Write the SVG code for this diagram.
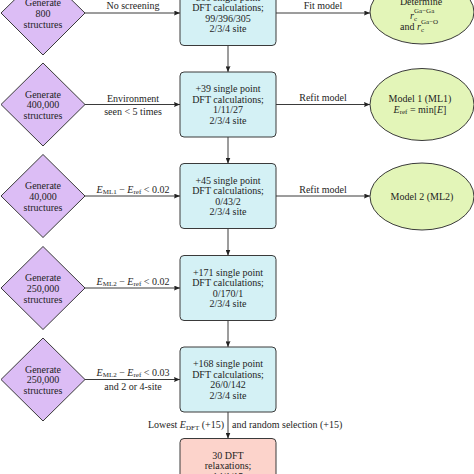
<svg xmlns="http://www.w3.org/2000/svg" width="474" height="474" viewBox="0 0 474 474">
<defs>
<style>
text{font-family:'Liberation Serif','Times New Roman',serif;font-size:10px;fill:#1e1e1e;text-anchor:middle}
.dia{fill:#dcbdf5;stroke:#3a3a3a;stroke-width:1}
.box{fill:#d4f1f5;stroke:#3a3a3a;stroke-width:1}
.red{fill:#fcd3cb;stroke:#3a3a3a;stroke-width:1}
.ell{fill:#e3f5b8;stroke:#3a3a3a;stroke-width:1}
.con{stroke:#3a3a3a;stroke-width:1;fill:none;marker-end:url(#ah)}
.i{font-style:italic}
.s{font-size:7px}
.st{text-anchor:start}
</style>
<marker id="ah" viewBox="0 0 6 5" refX="6" refY="2.5" markerWidth="6" markerHeight="5" markerUnits="userSpaceOnUse" orient="auto">
<path d="M0,0 L6,2.5 L0,5 Q1.2,2.5 0,0 z" fill="#222"/>
</marker>
</defs>

<g id="connectors">
<line class="con" x1="85" y1="13" x2="180" y2="13"/>
<line class="con" x1="85" y1="104.5" x2="180" y2="104.5"/>
<line class="con" x1="85" y1="196" x2="180" y2="196"/>
<line class="con" x1="85" y1="288" x2="180" y2="288"/>
<line class="con" x1="85" y1="379.5" x2="180" y2="379.5"/>
<line class="con" x1="276" y1="13" x2="370" y2="13"/>
<line class="con" x1="276" y1="104.5" x2="370" y2="104.5"/>
<line class="con" x1="276" y1="196" x2="370" y2="196"/>
<line class="con" x1="228" y1="45.5" x2="228" y2="72"/>
<line class="con" x1="228" y1="137" x2="228" y2="163.5"/>
<line class="con" x1="228" y1="228.5" x2="228" y2="255.5"/>
<line class="con" x1="228" y1="320.5" x2="228" y2="347"/>
<line class="con" x1="228" y1="412" x2="228" y2="438.5"/>
<text x="133" y="9">No screening</text>
<text x="133" y="101.5">Environment</text>
<text x="133" y="115">seen &lt; 5 times</text>
<text x="133" y="192.5"><tspan class="i">E</tspan><tspan class="s" dy="1.5">ML1</tspan><tspan dy="-1.5"> − </tspan><tspan class="i">E</tspan><tspan class="s" dy="1.5">ref</tspan><tspan dy="-1.5"> &lt; 0.02</tspan></text>
<text x="133" y="284.5"><tspan class="i">E</tspan><tspan class="s" dy="1.5">ML2</tspan><tspan dy="-1.5"> − </tspan><tspan class="i">E</tspan><tspan class="s" dy="1.5">ref</tspan><tspan dy="-1.5"> &lt; 0.02</tspan></text>
<text x="133" y="375.5"><tspan class="i">E</tspan><tspan class="s" dy="1.5">ML2</tspan><tspan dy="-1.5"> − </tspan><tspan class="i">E</tspan><tspan class="s" dy="1.5">ref</tspan><tspan dy="-1.5"> &lt; 0.03</tspan></text>
<text x="133" y="390">and 2 or 4-site</text>
<text x="323" y="9">Fit model</text>
<text x="323" y="101">Refit model</text>
<text x="323" y="192.5">Refit model</text>
<text x="224" y="428" style="text-anchor:end">Lowest <tspan class="i">E</tspan><tspan class="s" dy="1.5">DFT</tspan><tspan dy="-1.5"> (+15)</tspan></text>
<text x="232" y="428" class="st">and random selection (+15)</text>
</g>

<g id="d1"><polygon class="dia" points="43,-28 85,13 43,55 1,13"/>
<text x="43" y="6">Generate</text><text x="43" y="16.5">800</text><text x="43" y="27.5">structures</text></g>
<g id="d2"><polygon class="dia" points="43,63 85,104.5 43,146 1,104.5"/>
<text x="43" y="97.5">Generate</text><text x="43" y="108">400,000</text><text x="43" y="119">structures</text></g>
<g id="d3"><polygon class="dia" points="43,154.5 85,196 43,237.5 1,196"/>
<text x="43" y="189">Generate</text><text x="43" y="199.5">40,000</text><text x="43" y="210.5">structures</text></g>
<g id="d4"><polygon class="dia" points="43,246.5 85,288 43,329.5 1,288"/>
<text x="43" y="281">Generate</text><text x="43" y="291.5">250,000</text><text x="43" y="302.5">structures</text></g>
<g id="d5"><polygon class="dia" points="43,338 85,379.5 43,421 1,379.5"/>
<text x="43" y="372.5">Generate</text><text x="43" y="383">250,000</text><text x="43" y="394">structures</text></g>

<g id="b1"><rect class="box" x="180" y="-19.5" width="96" height="65" rx="4"/>
<text x="228" y="0.6">800 single point</text><text x="228" y="11.2">DFT calculations;</text><text x="228" y="21.8">99/396/305</text><text x="228" y="32.4">2/3/4 site</text></g>
<g id="b2"><rect class="box" x="180" y="72" width="96" height="65" rx="4"/>
<text x="228" y="92">+39 single point</text><text x="228" y="102.6">DFT calculations;</text><text x="228" y="113.2">1/11/27</text><text x="228" y="123.8">2/3/4 site</text></g>
<g id="b3"><rect class="box" x="180" y="163.5" width="96" height="65" rx="4"/>
<text x="228" y="183.5">+45 single point</text><text x="228" y="194.1">DFT calculations;</text><text x="228" y="204.7">0/43/2</text><text x="228" y="215.3">2/3/4 site</text></g>
<g id="b4"><rect class="box" x="180" y="255.5" width="96" height="65" rx="4"/>
<text x="228" y="275.5">+171 single point</text><text x="228" y="286.1">DFT calculations;</text><text x="228" y="296.7">0/170/1</text><text x="228" y="307.3">2/3/4 site</text></g>
<g id="b5"><rect class="box" x="180" y="347" width="96" height="65" rx="4"/>
<text x="228" y="367">+168 single point</text><text x="228" y="377.6">DFT calculations;</text><text x="228" y="388.2">26/0/142</text><text x="228" y="398.8">2/3/4 site</text></g>
<g id="b6"><rect class="red" x="180" y="438.5" width="96" height="65" rx="4"/>
<text x="228" y="458.5">30 DFT</text><text x="228" y="469.1">relaxations;</text><text x="228" y="479.7">14/1/15</text></g>

<g id="e1"><ellipse class="ell" cx="422" cy="12" rx="52" ry="32"/>
<text x="421" y="4.5">Determine</text>
<text class="st"><tspan class="i" x="410" y="18.5">r</tspan><tspan class="s" x="414" y="20.5">c</tspan><tspan class="s" x="414" y="12.5">Ga−Ga</tspan></text>
<text class="st"><tspan x="400" y="29.5">and</tspan><tspan class="i" x="417" y="29.5">r</tspan><tspan class="s" x="421" y="31.5">c</tspan><tspan class="s" x="421" y="23.5">Ga−O</tspan></text></g>
<g id="e2"><ellipse class="ell" cx="422" cy="104.5" rx="52" ry="36"/>
<text x="420" y="102">Model 1 (ML1)</text>
<text x="420" y="112.5"><tspan class="i">E</tspan><tspan class="s" dy="1.5">ref</tspan><tspan dy="-1.5"> = min[</tspan><tspan class="i">E</tspan><tspan>]</tspan></text></g>
<g id="e3"><ellipse class="ell" cx="422" cy="196.5" rx="52" ry="33.5"/>
<text x="422" y="199.5">Model 2 (ML2)</text></g>
</svg>
